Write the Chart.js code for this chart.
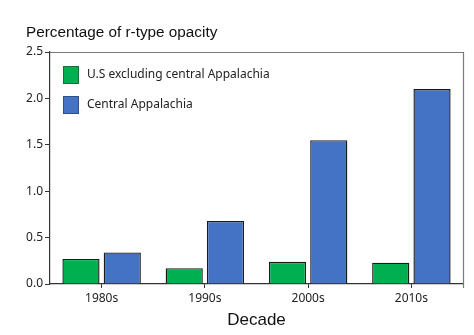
<!DOCTYPE html>
<html><head><meta charset="utf-8">
<script src="https://cdn.jsdelivr.net/npm/chart.js@4/dist/chart.umd.min.js"></script>
<style>html,body{margin:0;padding:0;background:#fff;}#wrap{width:474px;height:335px;}</style>
</head><body><div id="wrap"><canvas id="c" width="474" height="335"></canvas></div>
<script>
const categories = ['1980s', '1990s', '2000s', '2010s'];
const usExcluding = [0.27, 0.17, 0.24, 0.23];
const centralAppalachia = [0.34, 0.68, 1.55, 2.10];
const seriesNames = ['U.S excluding central Appalachia', 'Central Appalachia'];
const yTicks = [0, 0.5, 1.0, 1.5, 2.0, 2.5];
const chartTitle = 'Percentage of r-type opacity';
const xTitle = 'Decade';

const extras = {
  id: 'extras',
  afterDraw(chart) {
    const ctx = chart.ctx, a = chart.chartArea;
    ctx.save();
    // frame top & right
    ctx.strokeStyle = '#7a7a7a';
    ctx.lineWidth = 1.2;
    ctx.beginPath();
    ctx.moveTo(a.left, a.top + 0.5);
    ctx.lineTo(a.right + 0.5, a.top + 0.5);
    ctx.lineTo(a.right + 0.5, a.bottom + 4);
    ctx.stroke();
    // title
    ctx.fillStyle = '#111';
    ctx.font = '15.3px "Liberation Sans", Arial, sans-serif';
    ctx.textBaseline = 'middle';
    ctx.textAlign = 'left';
    ctx.fillText(chartTitle, 26, 33);
    // legend
    ctx.font = '12px "Noto Sans", sans-serif';
    chart.data.datasets.forEach((ds, i) => {
      const x = a.left + 13, y = a.top + 14 + i * 30;
      ctx.fillStyle = ds.backgroundColor;
      ctx.fillRect(x, y, 16, 18);
      ctx.strokeStyle = i === 0 ? '#1e6b3a' : '#2f4f8a';
      ctx.lineWidth = 1;
      ctx.strokeRect(x + 0.5, y + 0.5, 15, 17);
      ctx.fillStyle = '#222';
      ctx.fillText(ds.label, a.left + 37, y + 9);
    });
    ctx.restore();
  }
};

new Chart(document.getElementById('c'), {
  type: 'bar',
  data: {
    labels: categories,
    datasets: [
      { label: seriesNames[0], data: usExcluding, backgroundColor: '#00b050', borderColor: '#1a1a1a', borderWidth: 1.4 },
      { label: seriesNames[1], data: centralAppalachia, backgroundColor: '#4472c4', borderColor: '#1a1a1a', borderWidth: 1.4 }
    ]
  },
  options: {
    responsive: false,
    animation: false,
    devicePixelRatio: 1,
    layout: { padding: { left: 0, right: 11, top: 52, bottom: 0 } },
    datasets: { bar: { barPercentage: 0.9, categoryPercentage: 0.8 } },
    plugins: { legend: { display: false }, tooltip: { enabled: false }, title: { display: false } },
    scales: {
      x: {
        grid: { display: true, drawOnChartArea: false, offset: false, tickLength: 4, color: '#333' },
        border: { display: true, color: '#333', width: 1.2 },
        ticks: { color: '#222', font: { family: '"Noto Sans", sans-serif', size: 12 }, padding: 3 },
        title: { display: true, text: xTitle, color: '#111', font: { family: '"Liberation Sans", Arial, sans-serif', size: 17 }, padding: { top: 4, bottom: 4 } },
        afterFit(s) { s.height = 51; }
      },
      y: {
        min: 0, max: 2.5,
        afterBuildTicks(s) { s.ticks = yTicks.map(v => ({ value: v })); },
        grid: { display: true, drawOnChartArea: false, tickLength: 5, color: '#333' },
        border: { display: true, color: '#333', width: 1.2 },
        ticks: { color: '#222', font: { family: '"Noto Sans", sans-serif', size: 12 }, padding: 2, callback: v => Number(v).toFixed(1) },
        afterFit(s) { s.width = 50; }
      }
    }
  },
  plugins: [extras]
});
</script></body></html>
